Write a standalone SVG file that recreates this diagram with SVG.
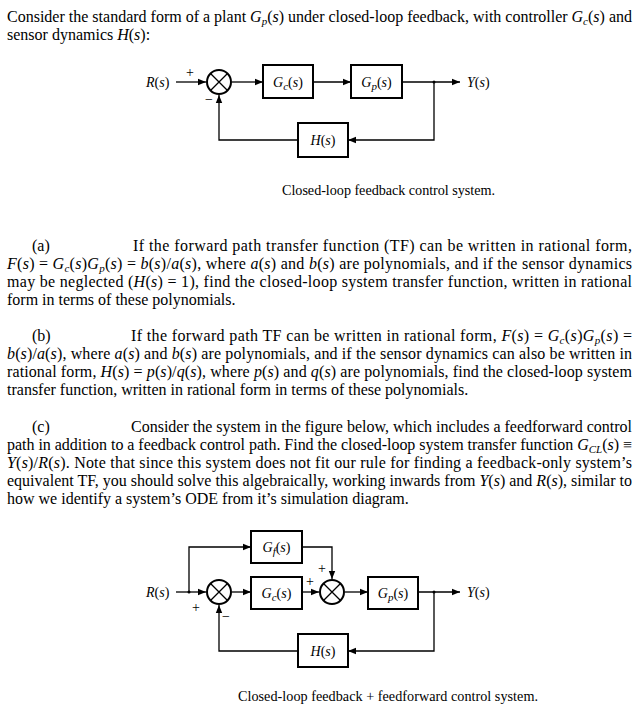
<svg xmlns="http://www.w3.org/2000/svg" width="641" height="713" viewBox="0 0 641 713">
<style>
text{font-family:"Liberation Serif","DejaVu Serif",serif;fill:#000;font-size:16px}
.i{font-style:italic}
.s{font-size:11px}
.d{font-size:14px}
.c{font-size:14.2px}
.b{fill:#fff;stroke:#000;stroke-width:2}
.l{fill:none;stroke:#000;stroke-width:1.3}
.sum{fill:#fff;stroke:#000;stroke-width:2}
</style>
<defs>
<marker id="a" viewBox="0 0 10 10" refX="10" refY="5" markerWidth="8" markerHeight="8" markerUnits="userSpaceOnUse" orient="auto"><path d="M0,1 L10,5 L0,9 z" fill="#000"/></marker>
</defs>
<rect width="641" height="713" fill="#fff"/>

<text x="7" y="22" textLength="625" lengthAdjust="spacing">Consider the standard form of a plant <tspan class="i">G</tspan><tspan class="s i" dy="3">p</tspan><tspan dy="-3">(</tspan><tspan class="i">s</tspan>) under closed-loop feedback, with controller <tspan class="i">G</tspan><tspan class="s i" dy="3">c</tspan><tspan dy="-3">(</tspan><tspan class="i">s</tspan>) and</text>
<text x="7" y="40">sensor dynamics <tspan class="i">H</tspan>(<tspan class="i">s</tspan>):</text>

<g id="connectors1">
<line class="l" x1="176" y1="82" x2="206" y2="82" marker-end="url(#a)"/>
<line class="l" x1="232" y1="82" x2="263" y2="82" marker-end="url(#a)"/>
<line class="l" x1="313" y1="82" x2="351" y2="82" marker-end="url(#a)"/>
<line class="l" x1="402" y1="82" x2="460" y2="82" marker-end="url(#a)"/>
<polyline class="l" points="434,82 434,140 348,140" marker-end="url(#a)"/>
<polyline class="l" points="298,140 219,140 219,95" marker-end="url(#a)"/>
<circle cx="434" cy="82" r="1.5"/>
</g>
<g id="R1"><text class="d" x="146" y="87"><tspan class="i">R</tspan>(<tspan class="i">s</tspan>)</text></g>
<g id="sum1"><circle class="sum" cx="219" cy="82" r="12"/><path class="l" stroke-width="2" d="M210.5,73.5 L227.5,90.5 M227.5,73.5 L210.5,90.5"/>
<text class="d" x="186" y="77">+</text><text class="d" x="205" y="104">−</text></g>
<g id="Gc1"><rect class="b" x="263" y="65" width="50" height="33"/><text class="d" x="288" y="87" text-anchor="middle"><tspan class="i">G</tspan><tspan class="s i" dy="3">c</tspan><tspan dy="-3">(</tspan><tspan class="i">s</tspan>)</text></g>
<g id="Gp1"><rect class="b" x="351" y="65" width="51" height="33"/><text class="d" x="376.5" y="87" text-anchor="middle"><tspan class="i">G</tspan><tspan class="s i" dy="3">p</tspan><tspan dy="-3">(</tspan><tspan class="i">s</tspan>)</text></g>
<g id="Y1"><text class="d" x="467" y="87"><tspan class="i">Y</tspan>(<tspan class="i">s</tspan>)</text></g>
<g id="H1"><rect class="b" x="298" y="123" width="50" height="34"/><text class="d" x="323" y="145" text-anchor="middle"><tspan class="i">H</tspan>(<tspan class="i">s</tspan>)</text></g>
<text class="c" x="282" y="195" textLength="213" lengthAdjust="spacing">Closed-loop feedback control system.</text>

<text x="32" y="251">(a)</text>
<text x="133" y="251" textLength="499" lengthAdjust="spacing">If the forward path transfer function (TF) can be written in rational form,</text>
<text x="7" y="269" textLength="625" lengthAdjust="spacing"><tspan class="i">F</tspan>(<tspan class="i">s</tspan>) = <tspan class="i">G</tspan><tspan class="s i" dy="3">c</tspan><tspan dy="-3">(</tspan><tspan class="i">s</tspan>)<tspan class="i">G</tspan><tspan class="s i" dy="3">p</tspan><tspan dy="-3">(</tspan><tspan class="i">s</tspan>) = <tspan class="i">b</tspan>(<tspan class="i">s</tspan>)/<tspan class="i">a</tspan>(<tspan class="i">s</tspan>), where <tspan class="i">a</tspan>(<tspan class="i">s</tspan>) and <tspan class="i">b</tspan>(<tspan class="i">s</tspan>) are polynomials, and if the sensor dynamics</text>
<text x="7" y="287" textLength="625" lengthAdjust="spacing">may be neglected (<tspan class="i">H</tspan>(<tspan class="i">s</tspan>) = 1), find the closed-loop system transfer function, written in rational</text>
<text x="7" y="305">form in terms of these polynomials.</text>

<text x="32" y="341">(b)</text>
<text x="131" y="341" textLength="501" lengthAdjust="spacing">If the forward path TF can be written in rational form, <tspan class="i">F</tspan>(<tspan class="i">s</tspan>) = <tspan class="i">G</tspan><tspan class="s i" dy="3">c</tspan><tspan dy="-3">(</tspan><tspan class="i">s</tspan>)<tspan class="i">G</tspan><tspan class="s i" dy="3">p</tspan><tspan dy="-3">(</tspan><tspan class="i">s</tspan>) =</text>
<text x="7" y="359" textLength="625" lengthAdjust="spacing"><tspan class="i">b</tspan>(<tspan class="i">s</tspan>)/<tspan class="i">a</tspan>(<tspan class="i">s</tspan>), where <tspan class="i">a</tspan>(<tspan class="i">s</tspan>) and <tspan class="i">b</tspan>(<tspan class="i">s</tspan>) are polynomials, and if the sensor dynamics can also be written in</text>
<text x="7" y="377" textLength="625" lengthAdjust="spacing">rational form, <tspan class="i">H</tspan>(<tspan class="i">s</tspan>) = <tspan class="i">p</tspan>(<tspan class="i">s</tspan>)/<tspan class="i">q</tspan>(<tspan class="i">s</tspan>), where <tspan class="i">p</tspan>(<tspan class="i">s</tspan>) and <tspan class="i">q</tspan>(<tspan class="i">s</tspan>) are polynomials, find the closed-loop system</text>
<text x="7" y="395">transfer function, written in rational form in terms of these polynomials.</text>

<text x="32" y="432">(c)</text>
<text x="131" y="432" textLength="501" lengthAdjust="spacing">Consider the system in the figure below, which includes a feedforward control</text>
<text x="7" y="450" textLength="625" lengthAdjust="spacing">path in addition to a feedback control path. Find the closed-loop system transfer function <tspan class="i">G</tspan><tspan class="s i" dy="3">CL</tspan><tspan dy="-3">(</tspan><tspan class="i">s</tspan>) ≡</text>
<text x="7" y="468" textLength="625" lengthAdjust="spacing"><tspan class="i">Y</tspan>(<tspan class="i">s</tspan>)/<tspan class="i">R</tspan>(<tspan class="i">s</tspan>). Note that since this system does not fit our rule for finding a feedback-only system’s</text>
<text x="7" y="486" textLength="625" lengthAdjust="spacing">equivalent TF, you should solve this algebraically, working inwards from <tspan class="i">Y</tspan>(<tspan class="i">s</tspan>) and <tspan class="i">R</tspan>(<tspan class="i">s</tspan>), similar to</text>
<text x="7" y="504">how we identify a system’s ODE from it’s simulation diagram.</text>

<g id="connectors2">
<line class="l" x1="176" y1="592" x2="206" y2="592" marker-end="url(#a)"/>
<polyline class="l" points="189,592 189,547 251,547" marker-end="url(#a)"/>
<line class="l" x1="232" y1="592" x2="251" y2="592" marker-end="url(#a)"/>
<line class="l" x1="302" y1="592" x2="319" y2="592" marker-end="url(#a)"/>
<polyline class="l" points="302,547 332,547 332,579" marker-end="url(#a)"/>
<line class="l" x1="345" y1="592" x2="368" y2="592" marker-end="url(#a)"/>
<line class="l" x1="418" y1="592" x2="460" y2="592" marker-end="url(#a)"/>
<polyline class="l" points="434,592 434,651 348,651" marker-end="url(#a)"/>
<polyline class="l" points="298,651 219,651 219,605" marker-end="url(#a)"/>
<circle cx="434" cy="592" r="1.5"/><circle cx="189" cy="592" r="1.5"/>
</g>
<g id="R2"><text class="d" x="146" y="597"><tspan class="i">R</tspan>(<tspan class="i">s</tspan>)</text></g>
<g id="sum2a"><circle class="sum" cx="219" cy="592" r="12"/><path class="l" stroke-width="2" d="M210.5,583.5 L227.5,600.5 M227.5,583.5 L210.5,600.5"/>
<text class="d" x="192" y="612">+</text><text class="d" x="222" y="621">−</text></g>
<g id="Gf"><rect class="b" x="251" y="531" width="51" height="32"/><text class="d" x="276.5" y="552" text-anchor="middle"><tspan class="i">G</tspan><tspan class="s i" dy="3">f</tspan><tspan dy="-3">(</tspan><tspan class="i">s</tspan>)</text></g>
<g id="Gc2"><rect class="b" x="251" y="577" width="51" height="32"/><text class="d" x="276.5" y="598" text-anchor="middle"><tspan class="i">G</tspan><tspan class="s i" dy="3">c</tspan><tspan dy="-3">(</tspan><tspan class="i">s</tspan>)</text></g>
<g id="sum2b"><circle class="sum" cx="332" cy="592" r="12"/><path class="l" stroke-width="2" d="M323.5,583.5 L340.5,600.5 M340.5,583.5 L323.5,600.5"/>
<text class="d" x="306" y="586">+</text><text class="d" x="318" y="573">+</text></g>
<g id="Gp2"><rect class="b" x="368" y="577" width="50" height="32"/><text class="d" x="393" y="598" text-anchor="middle"><tspan class="i">G</tspan><tspan class="s i" dy="3">p</tspan><tspan dy="-3">(</tspan><tspan class="i">s</tspan>)</text></g>
<g id="Y2"><text class="d" x="467" y="597"><tspan class="i">Y</tspan>(<tspan class="i">s</tspan>)</text></g>
<g id="H2"><rect class="b" x="298" y="634" width="50" height="33"/><text class="d" x="323" y="656" text-anchor="middle"><tspan class="i">H</tspan>(<tspan class="i">s</tspan>)</text></g>
<text class="c" x="238" y="701" textLength="300" lengthAdjust="spacing">Closed-loop feedback + feedforward control system.</text>
</svg>
